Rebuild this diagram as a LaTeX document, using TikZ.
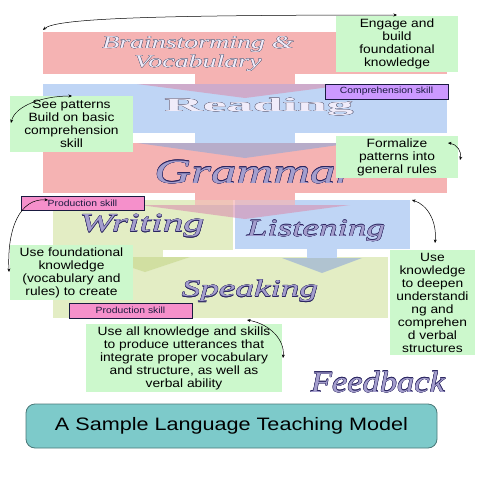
\documentclass[tikz,border=0pt]{standalone}
\usepackage{fontspec}
\setmainfont{Liberation Sans}
\newfontfamily\boxf[FakeStretch=1.15]{Liberation Sans}
\newfontfamily\titlef[FakeStretch=1.2]{Liberation Sans}
\newfontfamily\brainf[FakeStretch=1.55]{Liberation Serif}
\newfontfamily\readf[FakeStretch=2.8]{Liberation Serif}
\newfontfamily\gramf[FakeStretch=1.5]{Liberation Serif}
\newfontfamily\writef[FakeStretch=1.6]{Liberation Serif}
\newfontfamily\listf[FakeStretch=1.55]{Liberation Serif}
\newfontfamily\feedf[FakeStretch=1.15]{Liberation Serif}
\usetikzlibrary{arrows.meta}
\definecolor{bpink}{HTML}{F5B3B3}
\definecolor{bblue}{HTML}{BFD5F5}
\definecolor{bgreen}{HTML}{E3EDC4}
\definecolor{hpink}{HTML}{D98FAF}
\definecolor{hblue}{HTML}{8FA8D9}
\definecolor{hgreen}{HTML}{C5D68A}
\definecolor{lblgreen}{HTML}{CCF8CC}
\definecolor{lblpurple}{HTML}{CC99FF}
\definecolor{lblpink}{HTML}{F590CB}
\definecolor{teal1}{HTML}{7DCACA}
\definecolor{teal2}{HTML}{4A7878}
\definecolor{lightfill}{HTML}{F0ECFA}
\definecolor{lightline}{HTML}{5E5E78}
\definecolor{darkfill}{HTML}{A49ECD}
\definecolor{darkline}{HTML}{2A2560}
\definecolor{navytext}{HTML}{1A1A40}
\newcommand\artword[5]{%
  \foreach \ang in {0,45,...,315}{%
    \node[font=#3, text=#4line, align=center, shift={(\ang:0.4pt)}] (#1\ang) at #2 {#5};}
  \node[font=#3, text=#4fill, align=center] (#1) at #2 {#5};}
\begin{document}
\begin{tikzpicture}[x=1pt,y=-1pt,
  gbox/.style={fill=lblgreen, inner sep=0pt, align=center, font=\boxf\fontsize{12}{13}\selectfont},
  tagbox/.style={draw=navytext, line width=0.6pt, inner sep=0pt, text=navytext, font=\boxf\fontsize{9}{10}\selectfont},
  curv/.style={line width=0.5pt, {Stealth[length=3.5pt,width=3pt]}-{Stealth[length=3.5pt,width=3pt]}},
  headop/.style={fill opacity=0.6}]
\useasboundingbox (0,0) rectangle (480,480);
% bands
\fill[bpink] (43,32) rectangle (447,74);
\fill[bblue] (43,84) rectangle (447,133);
\fill[bpink] (43,143) rectangle (447,193);
\fill[bgreen] (53,200) rectangle (233,250);
\fill[bblue] (235,200) rectangle (410,249);
\fill[bgreen] (53,257) rectangle (388,318);
% arrows between bands
\fill[bpink] (195,74) rectangle (295,84);
\fill[hpink, headop] (137,84) -- (353,84) -- (245,98) -- cycle;
\fill[bblue] (195,133) rectangle (295,143);
\fill[hblue, headop] (137,143) -- (353,143) -- (245,158) -- cycle;
\fill[bpink] (195,193) rectangle (295,200);
\fill[bpink, fill opacity=0.7] (195,200) rectangle (295,205);
\fill[hpink, headop] (140,205) -- (350,205) -- (245,219) -- cycle;
\fill[bgreen] (127,250) rectangle (163,257);
\fill[hgreen, headop] (100,257) -- (190,257) -- (145,272) -- cycle;
\fill[bblue] (307,249) rectangle (337,258);
\fill[hblue, headop] (282,258) -- (362,258) -- (322,273) -- cycle;
% band titles
\artword{tbrain}{(198,54)}{\brainf\itshape\fontsize{18}{19}\selectfont}{light}{Brainstorming \&\\Vocabulary}
\artword{tread}{(259,107)}{\readf\bfseries\fontsize{19}{20}\selectfont}{light}{Reading}
\artword{tgram}{(255,172)}{\gramf\itshape\fontsize{34}{36}\selectfont}{dark}{Grammar}
\artword{twrite}{(142,226)}{\writef\itshape\fontsize{26}{28}\selectfont}{dark}{Writing}
\artword{tlist}{(316,231)}{\listf\itshape\fontsize{24}{26}\selectfont}{dark}{Listening}
\artword{tspeak}{(250,291)}{\listf\itshape\fontsize{24}{26}\selectfont}{dark}{Speaking}
\artword{tfeed}{(378,382)}{\feedf\itshape\fontsize{30}{32}\selectfont}{dark}{Feedback}
% label boxes
\node[gbox, minimum width=122pt, minimum height=56pt] (engage) at (397,44) {Engage and\\build\\foundational\\knowledge};
\node[tagbox, fill=lblpurple, minimum width=123pt, minimum height=15pt] (compr) at (386.5,91.5) {Comprehension skill};
\node[gbox, minimum width=123pt, minimum height=56pt] (seepat) at (71.5,124) {See patterns\\Build on basic\\comprehension\\skill};
\node[gbox, minimum width=122pt, minimum height=42pt] (formal) at (397,157) {Formalize\\patterns into\\general rules};
\node[tagbox, fill=lblpink, minimum width=123pt, minimum height=14pt] (prod1) at (82.5,203) {Production skill};
\node[gbox, minimum width=123pt, minimum height=55pt] (usefound) at (71.5,272.5) {Use foundational\\knowledge\\(vocabulary and\\rules) to create};
\node[gbox, minimum width=85pt, minimum height=105pt] (useknow) at (432.5,302.5) {Use\\knowledge\\to deepen\\understandi\\ng and\\comprehen\\d verbal\\structures};
\node[tagbox, fill=lblpink, minimum width=123pt, minimum height=15pt] (prod2) at (130.5,310.5) {Production skill};
\node[gbox, minimum width=196pt, minimum height=68pt] (useall) at (184,358) {Use all knowledge and skills\\to produce utterances that\\integrate proper vocabulary\\and structure, as well as\\verbal ability};
\node[fill=teal1, draw=teal2, line width=0.8pt, rounded corners=9pt, minimum width=411pt, minimum height=44pt, font=\titlef\fontsize{18}{20}\selectfont] (title) at (231.5,426) {A Sample Language Teaching Model};
% curved double arrows
\coordinate (a1s) at (43,30); \coordinate (a1e) at (397,15);
\draw[curv] (a1s) .. controls (55,19) and (140,15) .. (a1e);
\coordinate (a2s) at (72,96); \coordinate (a2e) at (11,123);
\draw[curv] (a2s) .. controls (42,96) and (15,106) .. (a2e);
\coordinate (a3s) at (448,143); \coordinate (a3e) at (460,160);
\draw[curv] (a3s) .. controls (457,144) and (462,152) .. (a3e);
\coordinate (a4s) at (48,200); \coordinate (a4e) at (9,272);
\draw[curv] (a4s) .. controls (20,198) and (7,228) .. (a4e);
\coordinate (a5s) at (412,200); \coordinate (a5e) at (435,243);
\draw[curv] (a5s) .. controls (428,205) and (437,222) .. (a5e);
\coordinate (a6s) at (247,320); \coordinate (a6e) at (283,358);
\draw[curv] (a6s) .. controls (270,324) and (285,340) .. (a6e);
\end{tikzpicture}
\end{document}
